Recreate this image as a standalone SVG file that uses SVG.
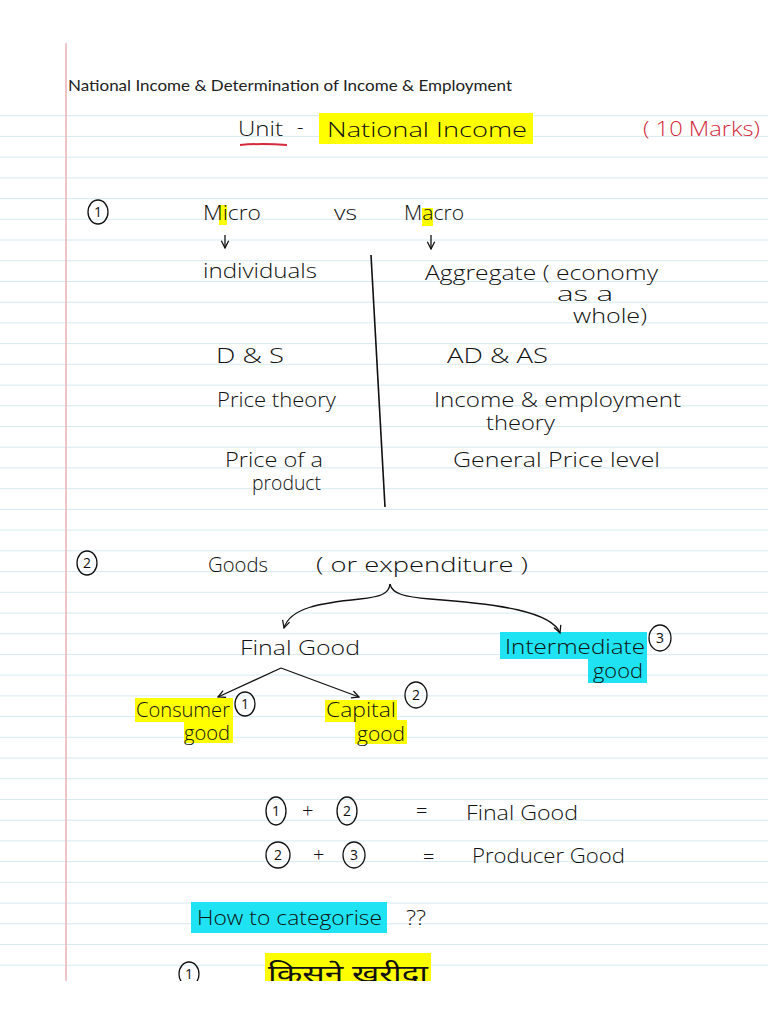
<svg xmlns="http://www.w3.org/2000/svg" width="768" height="1024" viewBox="0 0 768 1024">
<style>
.rule{stroke:#d6eaf0;stroke-width:1}
.margin{stroke:#eab0b6;stroke-width:1.5}
.title{font-family:Lato,"Open Sans","Liberation Sans",sans-serif;font-size:16px;fill:#222}
.hw{font-family:"Open Sans","Liberation Sans",sans-serif;font-size:20px;font-weight:300;fill:#111}
.hi{font-family:"Noto Sans","Noto Sans Devanagari","Lohit Devanagari",sans-serif;font-size:24px;fill:#111}
.red{fill:#d42a3c}
.num{font-family:"Open Sans","Liberation Sans",sans-serif;font-size:14px;fill:#111;text-anchor:middle}
.ring{fill:none;stroke:#111;stroke-width:1.3}
.conn{fill:none;stroke:#111;stroke-width:1.3}
.yel{fill:#ffff00}
.cyan{fill:#1fe3f2}
</style>
<defs>
<marker id="ah" viewBox="0 0 10 10" refX="9" refY="5" markerWidth="7" markerHeight="7" orient="auto-start-reverse">
<path d="M1,1 L9,5 L1,9" fill="none" stroke="#111" stroke-width="1.4"/>
</marker>
<clipPath id="page"><rect x="0" y="0" width="768" height="981"/></clipPath>
</defs>
<rect x="0" y="0" width="768" height="1024" fill="#ffffff"/>
<g clip-path="url(#page)">
<g id="paper-rules">
<line class="rule" x1="0" x2="768" y1="115.7" y2="115.7"/>
<line class="rule" x1="0" x2="768" y1="136.4" y2="136.4"/>
<line class="rule" x1="0" x2="768" y1="157.1" y2="157.1"/>
<line class="rule" x1="0" x2="768" y1="177.9" y2="177.9"/>
<line class="rule" x1="0" x2="768" y1="198.6" y2="198.6"/>
<line class="rule" x1="0" x2="768" y1="219.3" y2="219.3"/>
<line class="rule" x1="0" x2="768" y1="240.0" y2="240.0"/>
<line class="rule" x1="0" x2="768" y1="260.7" y2="260.7"/>
<line class="rule" x1="0" x2="768" y1="281.5" y2="281.5"/>
<line class="rule" x1="0" x2="768" y1="302.2" y2="302.2"/>
<line class="rule" x1="0" x2="768" y1="322.9" y2="322.9"/>
<line class="rule" x1="0" x2="768" y1="343.6" y2="343.6"/>
<line class="rule" x1="0" x2="768" y1="364.3" y2="364.3"/>
<line class="rule" x1="0" x2="768" y1="385.1" y2="385.1"/>
<line class="rule" x1="0" x2="768" y1="405.8" y2="405.8"/>
<line class="rule" x1="0" x2="768" y1="426.5" y2="426.5"/>
<line class="rule" x1="0" x2="768" y1="447.2" y2="447.2"/>
<line class="rule" x1="0" x2="768" y1="467.9" y2="467.9"/>
<line class="rule" x1="0" x2="768" y1="488.7" y2="488.7"/>
<line class="rule" x1="0" x2="768" y1="509.4" y2="509.4"/>
<line class="rule" x1="0" x2="768" y1="530.1" y2="530.1"/>
<line class="rule" x1="0" x2="768" y1="550.8" y2="550.8"/>
<line class="rule" x1="0" x2="768" y1="571.5" y2="571.5"/>
<line class="rule" x1="0" x2="768" y1="592.3" y2="592.3"/>
<line class="rule" x1="0" x2="768" y1="613.0" y2="613.0"/>
<line class="rule" x1="0" x2="768" y1="633.7" y2="633.7"/>
<line class="rule" x1="0" x2="768" y1="654.4" y2="654.4"/>
<line class="rule" x1="0" x2="768" y1="675.1" y2="675.1"/>
<line class="rule" x1="0" x2="768" y1="695.9" y2="695.9"/>
<line class="rule" x1="0" x2="768" y1="716.6" y2="716.6"/>
<line class="rule" x1="0" x2="768" y1="737.3" y2="737.3"/>
<line class="rule" x1="0" x2="768" y1="758.0" y2="758.0"/>
<line class="rule" x1="0" x2="768" y1="778.7" y2="778.7"/>
<line class="rule" x1="0" x2="768" y1="799.5" y2="799.5"/>
<line class="rule" x1="0" x2="768" y1="820.2" y2="820.2"/>
<line class="rule" x1="0" x2="768" y1="840.9" y2="840.9"/>
<line class="rule" x1="0" x2="768" y1="861.6" y2="861.6"/>
<line class="rule" x1="0" x2="768" y1="882.3" y2="882.3"/>
<line class="rule" x1="0" x2="768" y1="903.1" y2="903.1"/>
<line class="rule" x1="0" x2="768" y1="923.8" y2="923.8"/>
<line class="rule" x1="0" x2="768" y1="944.5" y2="944.5"/>
<line class="rule" x1="0" x2="768" y1="965.2" y2="965.2"/>
<line class="margin" x1="66" x2="66" y1="43" y2="981"/>
</g>

<g id="header">
<text class="title" x="68" y="91" textLength="444" lengthAdjust="spacingAndGlyphs">National Income &amp; Determination of Income &amp; Employment</text>
<text class="hw" x="238" y="136" textLength="45" lengthAdjust="spacingAndGlyphs">Unit</text>
<path d="M240,145 Q262,143 287,145" fill="none" stroke="#d42a3c" stroke-width="2"/>
<text class="hw" x="297" y="134">-</text>
<rect class="yel" x="319" y="113" width="214" height="31"/>
<text class="hw" x="327" y="137" textLength="200" lengthAdjust="spacingAndGlyphs">National  Income</text>
<text class="hw red" x="643" y="136" textLength="117" lengthAdjust="spacingAndGlyphs">( 10  Marks)</text>
</g>

<g id="section-1">
<ellipse class="ring" cx="98" cy="212" rx="10" ry="12"/>
<text class="num" x="98" y="217">1</text>
<g id="micro">
<rect class="yel" x="219" y="205" width="8" height="20"/>
<text class="hw" x="203" y="220" textLength="58" lengthAdjust="spacingAndGlyphs">Micro</text>
</g>
<text class="hw" x="334" y="220" textLength="23" lengthAdjust="spacingAndGlyphs">vs</text>
<g id="macro">
<rect class="yel" x="422" y="208" width="11" height="18"/>
<text class="hw" x="404" y="220" textLength="60" lengthAdjust="spacingAndGlyphs">Macro</text>
</g>
<path d="M371,255 Q378,380 385,507" fill="none" stroke="#111" stroke-width="1.6"/>
<g id="micro-items">
<text class="hw" x="203" y="278" textLength="114" lengthAdjust="spacingAndGlyphs">individuals</text>
<text class="hw" x="216" y="363" textLength="68" lengthAdjust="spacingAndGlyphs">D &amp; S</text>
<text class="hw" x="217" y="407" textLength="119" lengthAdjust="spacingAndGlyphs">Price theory</text>
<text class="hw" x="225" y="467" textLength="98" lengthAdjust="spacingAndGlyphs">Price of a</text>
<text class="hw" x="252" y="490" textLength="69" lengthAdjust="spacingAndGlyphs">product</text>
</g>
<g id="macro-items">
<text class="hw" x="425" y="280" textLength="233" lengthAdjust="spacingAndGlyphs">Aggregate ( economy</text>
<text class="hw" x="557" y="301" textLength="56" lengthAdjust="spacingAndGlyphs">as  a</text>
<text class="hw" x="573" y="323" textLength="74" lengthAdjust="spacingAndGlyphs">whole)</text>
<text class="hw" x="447" y="363" textLength="101" lengthAdjust="spacingAndGlyphs">AD &amp; AS</text>
<text class="hw" x="434" y="407" textLength="247" lengthAdjust="spacingAndGlyphs">Income &amp; employment</text>
<text class="hw" x="486" y="430" textLength="69" lengthAdjust="spacingAndGlyphs">theory</text>
<text class="hw" x="453" y="467" textLength="207" lengthAdjust="spacingAndGlyphs">General Price level</text>
</g>
</g>

<g id="section-2">
<ellipse class="ring" cx="87" cy="563" rx="10" ry="12"/>
<text class="num" x="87" y="568">2</text>
<g id="goods">
<text class="hw" x="208" y="572" textLength="60" lengthAdjust="spacingAndGlyphs">Goods</text>
<text class="hw" x="316" y="572" textLength="212" lengthAdjust="spacingAndGlyphs">( or  expenditure )</text>
</g>
<g id="final-good">
<text class="hw" x="240" y="655" textLength="120" lengthAdjust="spacingAndGlyphs">Final Good</text>
</g>
<g id="intermediate-good">
<path class="cyan" d="M500,632 H647 V683 H588 V659 H500 Z"/>
<text class="hw" x="505" y="654" textLength="140" lengthAdjust="spacingAndGlyphs">Intermediate</text>
<text class="hw" x="593" y="678" textLength="50" lengthAdjust="spacingAndGlyphs">good</text>
<ellipse class="ring" cx="660" cy="638" rx="11" ry="13"/>
<text class="num" x="660" y="643">3</text>
</g>
<g id="consumer-good">
<path class="yel" d="M135,698 H233 V743 H184 V722 H135 Z"/>
<text class="hw" x="136" y="717" textLength="94" lengthAdjust="spacingAndGlyphs">Consumer</text>
<text class="hw" x="184" y="740" textLength="46" lengthAdjust="spacingAndGlyphs">good</text>
<ellipse class="ring" cx="245" cy="704" rx="10" ry="12"/>
<text class="num" x="245" y="709">1</text>
</g>
<g id="capital-good">
<path class="yel" d="M325,700 H397 V720 H407 V744 H355 V722 H325 Z"/>
<text class="hw" x="326" y="717" textLength="70" lengthAdjust="spacingAndGlyphs">Capital</text>
<text class="hw" x="357" y="741" textLength="48" lengthAdjust="spacingAndGlyphs">good</text>
<ellipse class="ring" cx="416" cy="695" rx="11" ry="13"/>
<text class="num" x="416" y="700">2</text>
</g>
</g>

<g id="connectors">
<line class="conn" x1="225" y1="235" x2="225" y2="248" marker-end="url(#ah)"/>
<line class="conn" x1="431" y1="235" x2="431" y2="249" marker-end="url(#ah)"/>
<path class="conn" d="M390,584 C389,594 380,597 360,599 C320,603 290,608 284,628" marker-end="url(#ah)"/>
<path class="conn" d="M390,584 C392,594 405,597 430,599 C500,604 552,612 560,633" marker-end="url(#ah)"/>
<line class="conn" x1="281" y1="668" x2="218" y2="697" marker-end="url(#ah)"/>
<line class="conn" x1="281" y1="668" x2="359" y2="697" marker-end="url(#ah)"/>
</g>

<g id="equations">
<ellipse class="ring" cx="276" cy="811" rx="10" ry="14"/>
<text class="num" x="276" y="816">1</text>
<text class="hw" x="302" y="818">+</text>
<ellipse class="ring" cx="347" cy="811" rx="10" ry="14"/>
<text class="num" x="347" y="816">2</text>
<text class="hw" x="416" y="818">=</text>
<text class="hw" x="466" y="820" textLength="112" lengthAdjust="spacingAndGlyphs">Final Good</text>
<ellipse class="ring" cx="278" cy="855" rx="12" ry="13"/>
<text class="num" x="278" y="860">2</text>
<text class="hw" x="313" y="862">+</text>
<ellipse class="ring" cx="354" cy="855" rx="11" ry="13"/>
<text class="num" x="354" y="860">3</text>
<text class="hw" x="423" y="864">=</text>
<text class="hw" x="472" y="863" textLength="153" lengthAdjust="spacingAndGlyphs">Producer Good</text>
</g>

<g id="categorise">
<rect class="cyan" x="191" y="902" width="196" height="31"/>
<text class="hw" x="197" y="925" textLength="185" lengthAdjust="spacingAndGlyphs">How to categorise</text>
<text class="hw" x="406" y="925" textLength="20" lengthAdjust="spacingAndGlyphs">??</text>
</g>

<g id="criterion-1">
<ellipse class="ring" cx="189" cy="974" rx="10" ry="12"/>
<text class="num" x="189" y="979">1</text>
<rect class="yel" x="265" y="953" width="166" height="32"/>
<text class="hi" x="268" y="982" textLength="160" lengthAdjust="spacingAndGlyphs">किसने  खरीदा</text>
</g>
</g>
</svg>
